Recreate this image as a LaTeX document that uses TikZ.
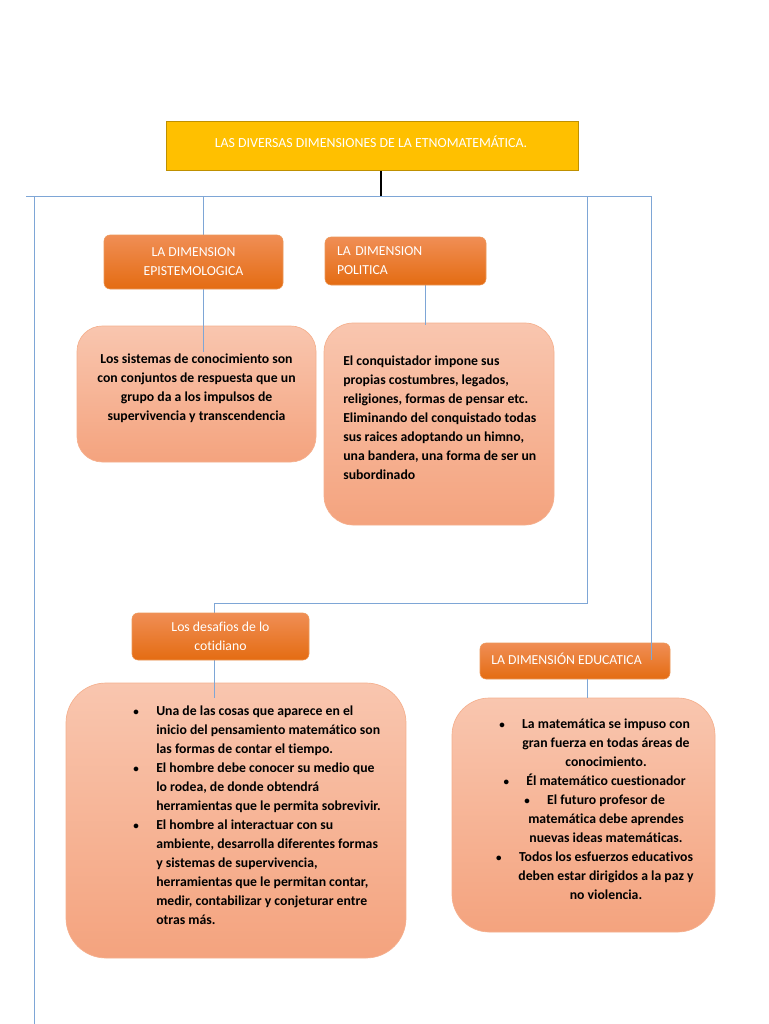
\documentclass[tikz,border=0pt]{standalone}
\usepackage{fontspec}
\setmainfont[Ligatures={NoCommon,NoRare},Contextuals=NoAlternate]{Carlito}
\definecolor{gold}{HTML}{FFC000}
\definecolor{goldedge}{HTML}{BF9000}
\definecolor{hdtop}{HTML}{F08E55}
\definecolor{hdbot}{HTML}{E46C12}
\definecolor{cttop}{HTML}{F9C6AF}
\definecolor{ctbot}{HTML}{F4A37E}
\definecolor{ctedge}{HTML}{F5B08E}
\definecolor{wire}{HTML}{7EA6D6}
\pgfdeclarelayer{bg}
\pgfdeclarelayer{boxes}
\pgfdeclarelayer{wires}
\pgfsetlayers{bg,boxes,wires,main}
\tikzset{
  titlebox/.style={draw=goldedge, line width=0.6pt, fill=gold, inner sep=0pt},
  titletext/.style={text=white, font=\fontsize{10.4}{12}\selectfont, inner sep=0pt},
  header/.style={rounded corners=4.5pt, top color=hdtop, bottom color=hdbot, draw=hdbot!70!white, line width=0.4pt, text=white, font=\fontsize{10.3}{14.25}\selectfont, inner sep=0pt},
  hdtext/.style={text=white, font=\fontsize{10.3}{14.25}\selectfont, inner sep=0pt},
  content/.style={top color=cttop, bottom color=ctbot, draw=ctedge, line width=0.5pt, inner sep=0pt},
  body/.style={font=\bfseries\fontsize{10.3}{14.25}\selectfont, inner sep=0pt, text=black},
  wireline/.style={draw=wire, line width=0.75pt},
  blackline/.style={draw=black, line width=1.3pt}
}
\newcommand{\bul}{\llap{\scalebox{0.8}{\textbullet}\hspace{13pt}}}
\begin{document}
\begin{tikzpicture}[x=0.75pt,y=-0.75pt]
\useasboundingbox (0,0) rectangle (768,1024);
\begin{pgfonlayer}{bg}
\fill[white] (0,0) rectangle (768,1024);
\end{pgfonlayer}

% title
\node[titlebox, minimum width=309pt, minimum height=36.75pt] (title) at (372,145.5) {};
\node[titletext] (titlet) at (371,141.5) {LAS DIVERSAS DIMENSIONES DE LA ETNOMATEMÁTICA.};

\begin{pgfonlayer}{boxes}
\node[content, rounded corners=19pt, minimum width=179.25pt, minimum height=102pt] (c1) at (196.5,394) {};
\node[content, rounded corners=22pt, minimum width=172.5pt, minimum height=151.5pt] (c2) at (439,424) {};
\node[content, rounded corners=30pt, minimum width=255pt, minimum height=206.25pt] (c3) at (236,820.5) {};
\node[content, rounded corners=28pt, minimum width=197.25pt, minimum height=175.5pt] (c4) at (583.5,815) {};
\node[header, minimum width=142.5pt, minimum height=27pt] (h4) at (575,661) {};
\end{pgfonlayer}
\node[hdtext, anchor=west] (h4t) at (491,659) {LA DIMENSIÓN EDUCATICA};

% headers
\node[header, minimum width=134.25pt, minimum height=40.5pt, align=center] (h1) at (193.5,262) {LA DIMENSION\\EPISTEMOLOGICA};
\node[header, minimum width=120.75pt, minimum height=36pt, align=left, text width=102.75pt] (h2) at (405.5,261) {LA DIMENSION\\POLITICA};
\node[header, minimum width=132.75pt, minimum height=35.25pt, align=center] (h3) at (220.5,636.5) {Los desafios de lo\\cotidiano};

% body texts
\node[body, align=center] (t1) at (196.5,388) {Los sistemas de conocimiento son\\con conjuntos de respuesta que un\\grupo da a los impulsos de\\supervivencia y transcendencia};
\node[body, align=left, anchor=west] (t2) at (343,418) {El conquistador impone sus\\propias costumbres, legados,\\religiones, formas de pensar etc.\\Eliminando del conquistado todas\\sus raices adoptando un himno,\\una bandera, una forma de ser un\\subordinado};
\node[body, align=left, anchor=west] (t3) at (156,815.5) {\bul Una de las cosas que aparece en el\\inicio del pensamiento matemático son\\las formas de contar el tiempo.\\\bul El hombre debe conocer su medio que\\lo rodea, de donde obtendrá\\herramientas que le permita sobrevivir.\\\bul El hombre al interactuar con su\\ambiente, desarrolla diferentes formas\\y sistemas de supervivencia,\\herramientas que le permitan contar,\\medir, contabilizar y conjeturar entre\\otras más.};
\node[body, align=center] (t4) at (606,809.5) {\bul La matemática se impuso con\\gran fuerza en todas áreas de\\conocimiento.\\\bul Él matemático cuestionador\\\bul El futuro profesor de\\matemática debe aprendes\\nuevas ideas matemáticas.\\\bul Todos los esfuerzos educativos\\deben estar dirigidos a la paz y\\no violencia.};

% connector coordinates
\coordinate (jt) at (381,196);
\coordinate (busL) at (26,196);
\coordinate (busR) at (651,196);
\coordinate (b1) at (34,196);
\coordinate (b1end) at (34,1024);
\coordinate (b2) at (203,196);
\coordinate (b2end) at (203,352);
\coordinate (b3) at (587,196);
\coordinate (b3turn) at (587,603);
\coordinate (b3turn2) at (214,603);
\coordinate (b3end) at (214,698);
\coordinate (b4end) at (651,660);
\coordinate (p2) at (425,325);
\coordinate (e2) at (587,698);

\begin{pgfonlayer}{wires}
\draw[blackline] (jt |- title.south) -- (jt);
\draw[wireline] (busL) -- (busR);
\draw[wireline] (b1) -- (b1end);
\draw[wireline] (b2) -- (b2end);
\draw[wireline] (b3) -- (b3turn) -- (b3turn2) -- (b3end);
\draw[wireline] (busR) -- (b4end);
\draw[wireline] (p2 |- h2.south) -- (p2);
\draw[wireline] (e2 |- h4.south) -- (e2);
\end{pgfonlayer}
\end{tikzpicture}
\end{document}
